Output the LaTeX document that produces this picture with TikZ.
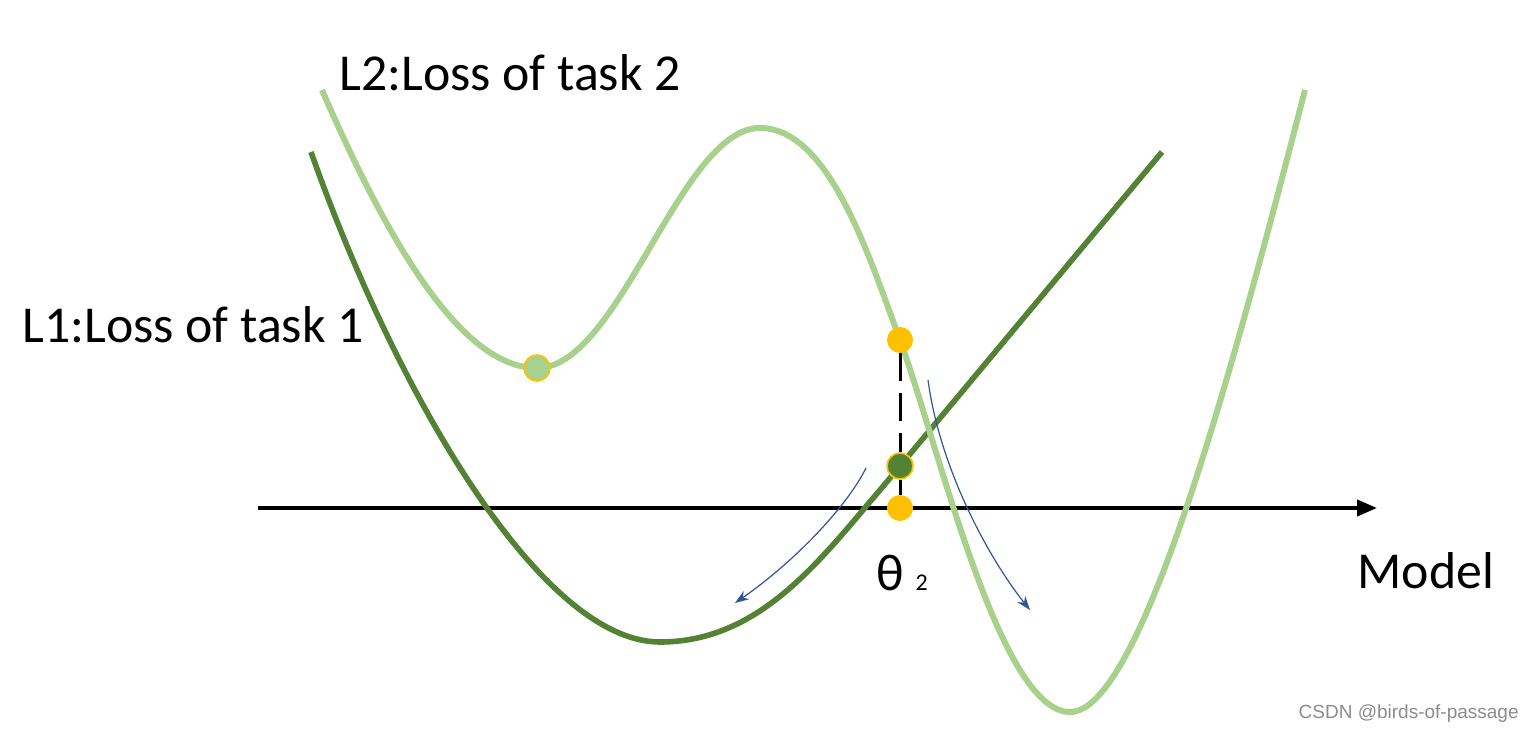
\documentclass[tikz,border=0pt]{standalone}
\usepackage{fontspec}
\setmainfont{Carlito}
\newfontfamily\markfont{Liberation Sans}
\usepackage{xcolor}
\usepackage{tikz}
\usetikzlibrary{shapes.geometric, arrows.meta, positioning}
\definecolor{lossone}{HTML}{548235}
\definecolor{losstwo}{HTML}{A9D18E}
\definecolor{dotyellow}{HTML}{FFC000}
\definecolor{stepblue}{HTML}{2F5597}
\tikzstyle{curveone} = [lossone, line width=2.8pt]
\tikzstyle{curvetwo} = [losstwo, line width=3pt]
\tikzstyle{dot} = [circle, inner sep=0pt, minimum size=13pt]
\tikzstyle{arrow} = [stepblue, line width=0.6pt, -{Stealth[length=7pt,width=5pt]}]
\tikzstyle{losstext} = [anchor=base west, inner sep=0pt]

\begin{document}
\begin{tikzpicture}[x=0.5pt,y=-0.5pt]
	\useasboundingbox (0,0) rectangle (1534,732);
	\begin{scope}[font=\fontsize{25.9}{31}\selectfont]
		
		% Axis:
		% A single thick line with an arrow tip, the label sits below its end:
		\coordinate (axstart) at (258,508);
		\coordinate (axend) at (1377,508);
		\draw [line width=2pt, -{Triangle[length=10pt,width=8pt]}] (axstart) -- (axend);
		\node [losstext] (model) at (1357,588) {Model};
		
		% Loss curves:
		% L1 is a parabola that turns into a straight line, L2 has two valleys
		\draw [curveone] (311,152) .. controls (395,390) and (540,642) .. (660,642)
			.. controls (760,642) and (820,560) .. (880,490) -- (1162,152);
		\draw [curvetwo] (322,90) .. controls (400,270) and (470,368) .. (537,368)
			.. controls (620,368) and (680,128) .. (760,128)
			.. controls (830,128) and (870,260) .. (900,340)
			.. controls (940,450) and (1000,712) .. (1070,712)
			.. controls (1140,712) and (1230,380) .. (1305,90);
		
		\node [losstext] (ltwo) at (339,91) {L2:Loss of task 2};
		\node [losstext] (lone) at (22,343) {L1:Loss of task 1};
		
		% Points at theta 2:
		\node [dot, fill=losstwo, draw=dotyellow, line width=0.8pt] (mintwo) at (537,368) {};
		\node [dot, fill=dotyellow] (ontwo) at (900,340) {};
		\node [dot, fill=lossone, draw=dotyellow, line width=0.8pt] (onone) at (900,466) {};
		\node [dot, fill=dotyellow] (theta) at (900,508) {};
		
		\draw [line width=1.5pt, dash pattern=on 14pt off 6pt] (ontwo.south) -- (onone.north);
		\draw [line width=1.5pt] (onone.south) -- (theta.north);
		
		\node [losstext] (thetalabel) at (876,590) {θ~{\fontsize{12}{12}\selectfont 2}};
		
		% Update directions:
		\coordinate (downone) at (866,468);
		\coordinate (endone) at (735,603);
		\coordinate (downtwo) at (928,380);
		\coordinate (endtwo) at (1030,610);
		\draw [arrow] (downone) .. controls (845,510) and (790,565) .. (endone);
		\draw [arrow] (downtwo) .. controls (940,470) and (990,560) .. (endtwo);
		
	\end{scope}
	
	\node [anchor=base east, inner sep=0pt, text=black!45, font=\markfont\fontsize{9.5}{11}\selectfont] (mark) at (1519,718) {CSDN @birds-of-passage};
	
\end{tikzpicture}
\end{document}
